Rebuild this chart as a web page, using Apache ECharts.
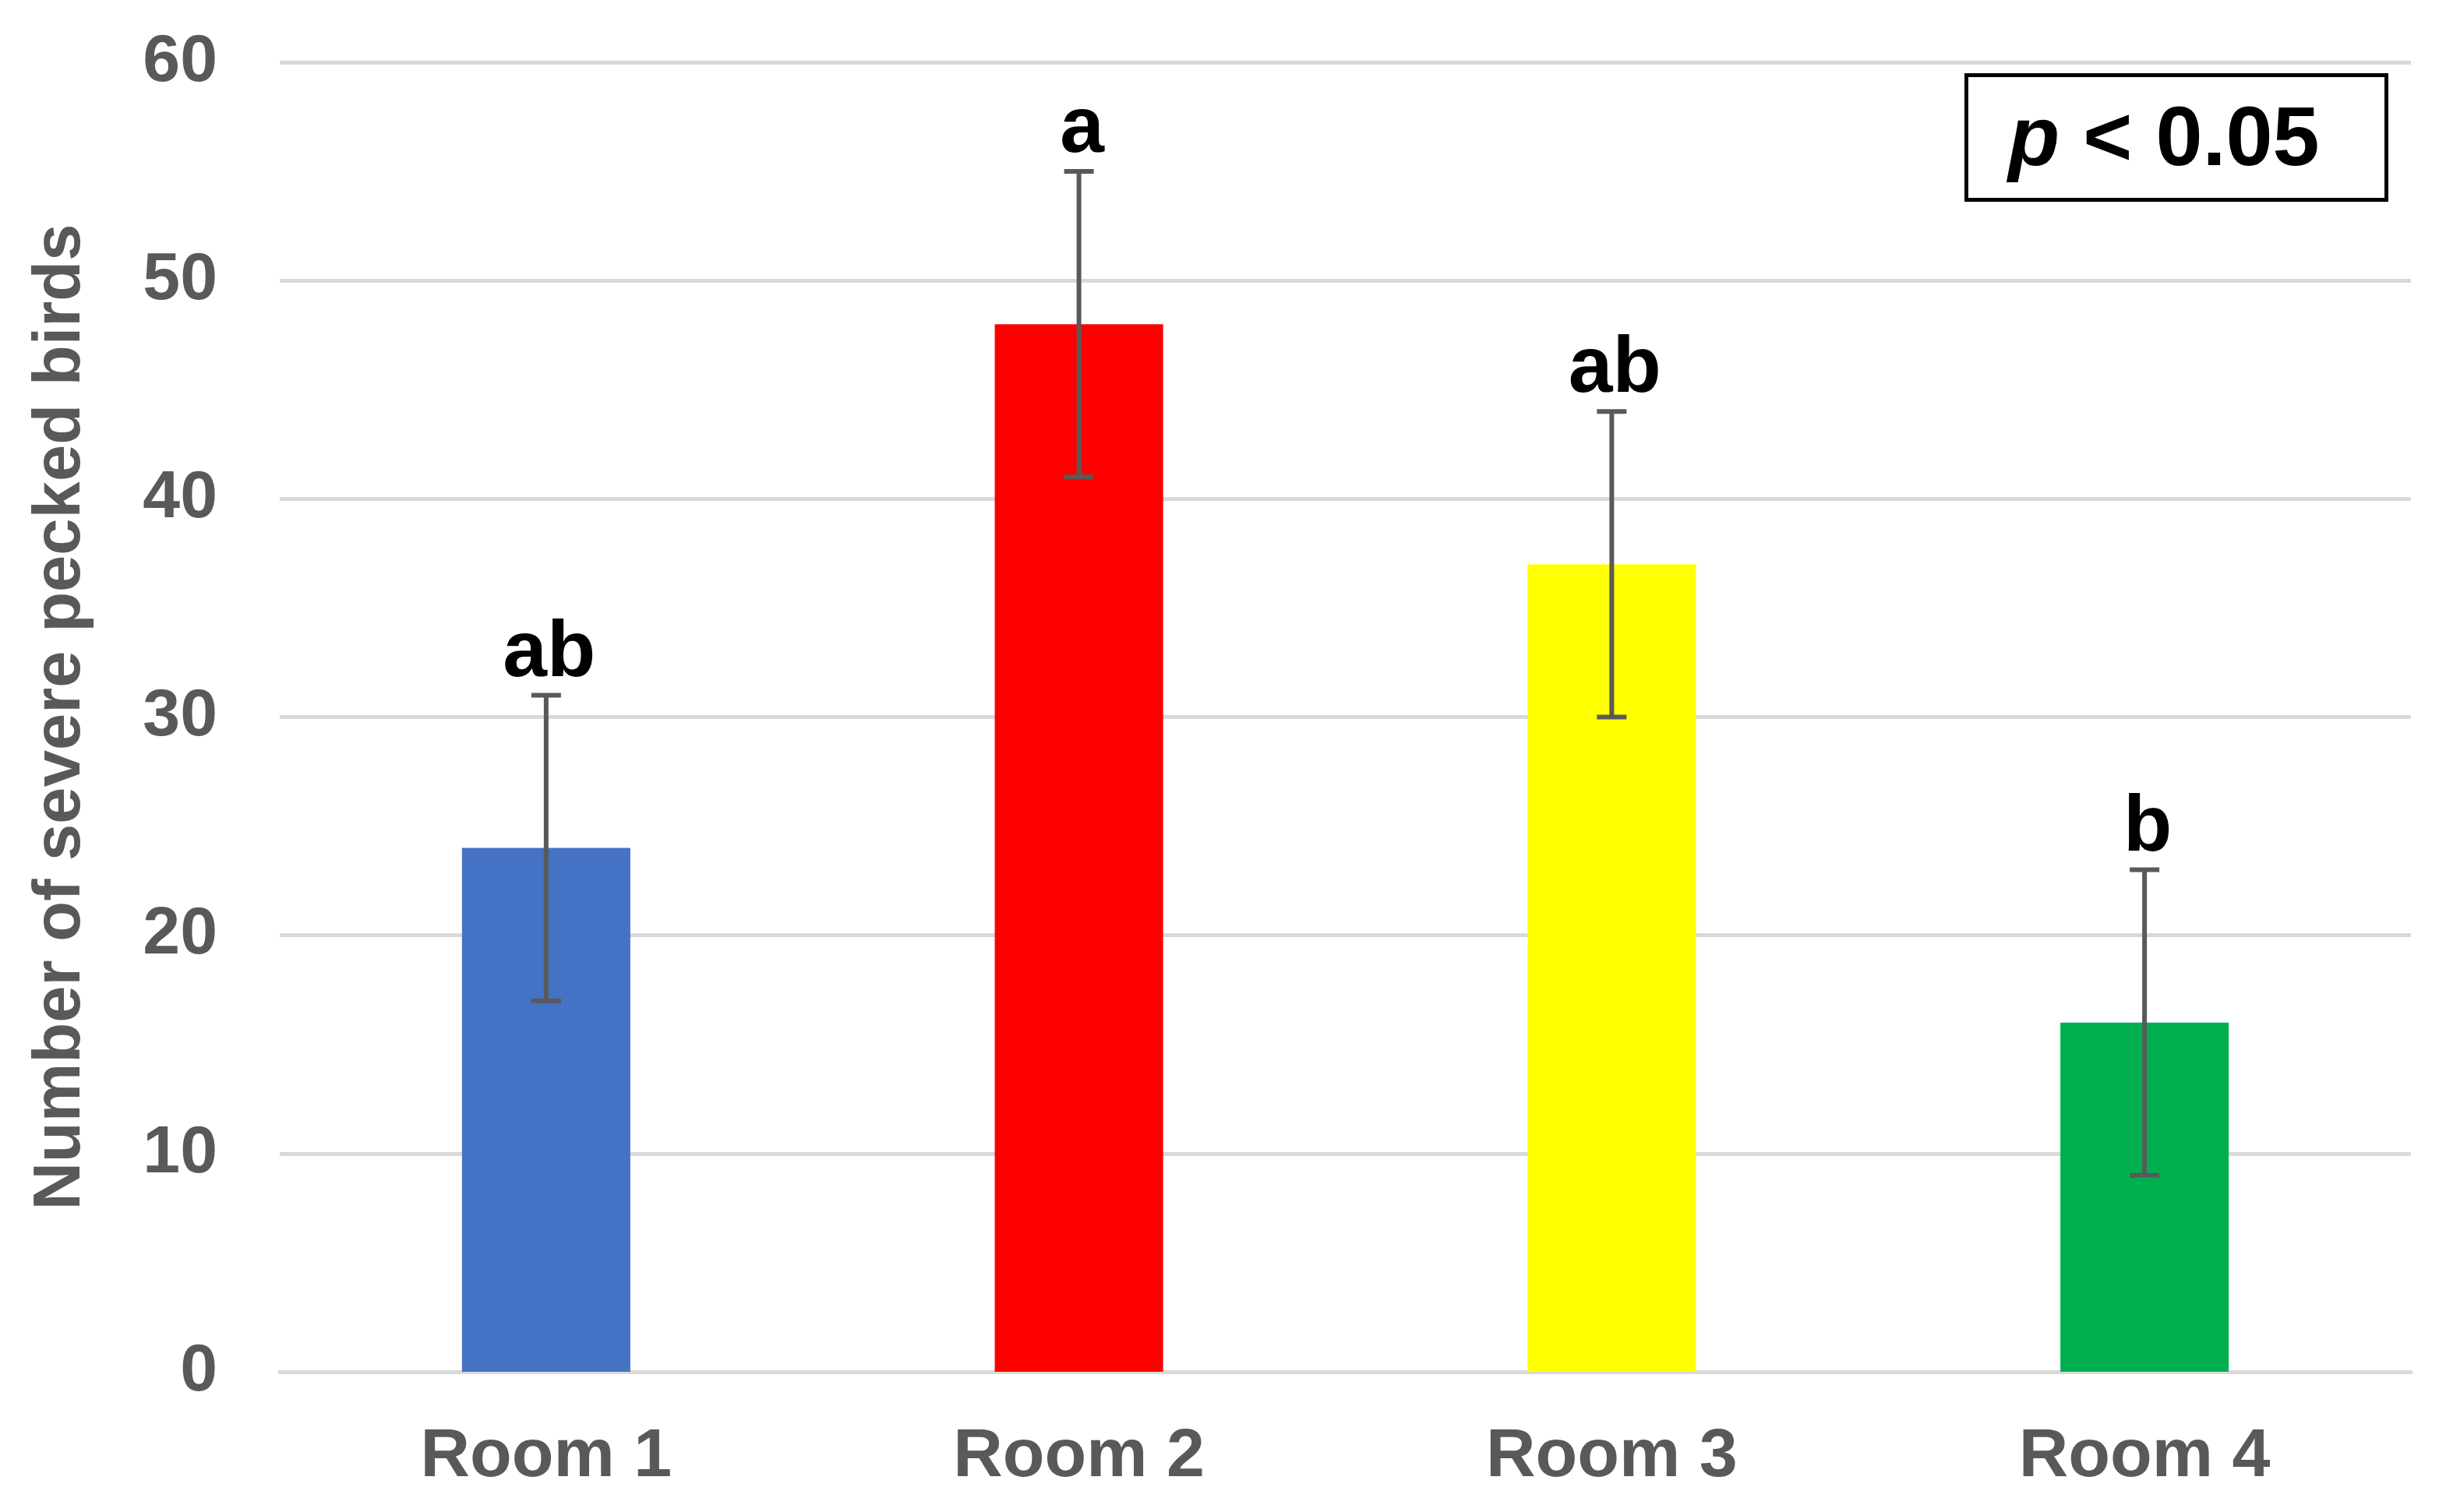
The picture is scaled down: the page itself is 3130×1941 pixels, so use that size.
<!DOCTYPE html>
<html>
<head>
<meta charset="utf-8">
<script src="https://cdn.jsdelivr.net/npm/echarts@6/dist/echarts.min.js"></script>
<style>
html,body{margin:0;padding:0;background:#fff;}
#chart{width:3130px;height:1941px;}
</style>
</head>
<body>
<div id="chart"></div>
<script>
var categories = ['Room 1', 'Room 2', 'Room 3', 'Room 4'];
var means = [24, 48, 37, 16];
var errLow = [17, 41, 30, 9];
var errHigh = [31, 55, 44, 23];
var letters = ['ab', 'a', 'ab', 'b'];
var yTicks = [0, 10, 20, 30, 40, 50, 60];
var barColors = ['#4472c4', '#ff0000', '#ffff00', '#00b050'];
var FONT = "'Liberation Sans', Arial, sans-serif";

var chart = echarts.init(document.getElementById('chart'), null, {renderer: 'canvas'});

var errData = categories.map(function (c, i) { return [i, errLow[i], errHigh[i], letters[i]]; });

chart.setOption({
  animation: false,
  backgroundColor: '#ffffff',
  grid: {left: 359, right: 36, top: 80, bottom: 180, containLabel: false},
  xAxis: {
    type: 'category',
    data: categories,
    axisLine: {show: true, lineStyle: {color: '#d9d9d9', width: 5}},
    axisTick: {show: false},
    axisLabel: {color: '#595959', fontWeight: 'bold', fontSize: 88, fontFamily: FONT, margin: 66, lineHeight: 88}
  },
  yAxis: {
    type: 'value',
    min: yTicks[0],
    max: yTicks[yTicks.length - 1],
    interval: 10,
    name: 'Number of severe pecked birds',
    nameLocation: 'middle',
    nameGap: 238,
    nameTextStyle: {color: '#595959', fontWeight: 'bold', fontSize: 85, fontFamily: FONT, lineHeight: 85},
    axisLine: {show: false},
    axisTick: {show: false},
    splitLine: {lineStyle: {color: '#d9d9d9', width: 5}},
    axisLabel: {color: '#595959', fontWeight: 'bold', fontSize: 86, fontFamily: FONT, margin: 80}
  },
  series: [
    {
      type: 'bar',
      data: means.map(function (v, i) { return {value: v, itemStyle: {color: barColors[i]}}; }),
      barWidth: '31.6%'
    },
    {
      type: 'custom',
      data: errData,
      z: 10,
      renderItem: function (params, api) {
        var x = api.value(0);
        var lo = api.coord([x, api.value(1)]);
        var hi = api.coord([x, api.value(2)]);
        var cap = 19;
        var style = {stroke: '#595959', lineWidth: 6};
        return {
          type: 'group',
          children: [
            {type: 'line', shape: {x1: lo[0], y1: lo[1], x2: hi[0], y2: hi[1]}, style: style},
            {type: 'line', shape: {x1: lo[0] - cap, y1: lo[1], x2: lo[0] + cap, y2: lo[1]}, style: style},
            {type: 'line', shape: {x1: hi[0] - cap, y1: hi[1], x2: hi[0] + cap, y2: hi[1]}, style: style},
            {type: 'text', x: hi[0] + 4, y: hi[1] - 2, style: {
              text: letters[params.dataIndex], fill: '#000', fontWeight: 'bold', fontSize: 102,
              fontFamily: FONT, align: 'center', verticalAlign: 'bottom'
            }}
          ]
        };
      }
    }
  ],
  graphic: [
    {
      type: 'rect', left: 2521, top: 94, z: 20,
      shape: {width: 539, height: 160},
      style: {fill: '#fff', stroke: '#000', lineWidth: 5}
    },
    {
      type: 'text', z: 21,
      x: 2777, y: 182,
      style: {
        text: '{i|p}{n| < 0.05}',
        align: 'center', verticalAlign: 'middle',
        rich: {
          i: {fontStyle: 'italic', fontWeight: 'bold', fontSize: 108, fontFamily: FONT, fill: '#000'},
          n: {fontWeight: 'bold', fontSize: 108, fontFamily: FONT, fill: '#000'}
        }
      }
    }
  ]
});
</script>
</body>
</html>
